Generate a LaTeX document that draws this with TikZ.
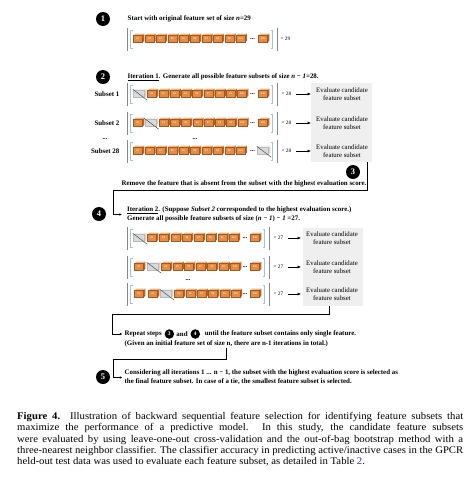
\documentclass[tikz,border=0pt]{standalone}
\usepackage{fontspec}
\setmainfont{Liberation Serif}
\newfontfamily\capfont{Liberation Serif}[FakeStretch=1.05]
\usepackage{xcolor}
\usetikzlibrary{arrows.meta, positioning}

\definecolor{cubeface}{RGB}{228,140,68}
\definecolor{cubeedge}{RGB}{160,88,30}
\definecolor{cubetopc}{RGB}{242,182,128}
\definecolor{cubesidec}{RGB}{185,100,40}
\definecolor{gapgray}{RGB}{218,218,218}
\definecolor{bargray}{RGB}{135,135,135}
\definecolor{brblue}{RGB}{160,195,225}
\definecolor{evalgray}{RGB}{239,239,239}
\definecolor{linkblue}{RGB}{30,60,200}

\tikzset{
  stepdot/.style={circle, fill=black, text=white, inner sep=0pt, minimum size=14pt,
    font=\fontsize{8.5}{8.5}\selectfont\bfseries},
  smalldot/.style={stepdot, minimum size=9.5pt, font=\fontsize{5.5}{5.5}\selectfont\bfseries},
  stepnote/.style={anchor=west, align=left, inner sep=0.5pt, font=\fontsize{6.9}{9}\selectfont\bfseries},
  subsetnote/.style={anchor=east, inner sep=0.5pt, font=\fontsize{6.9}{7}\selectfont\bfseries},
  dotsnote/.style={inner sep=0pt, font=\fontsize{6.5}{6.5}\selectfont\bfseries},
  eqnote/.style={anchor=west, inner sep=0.5pt, font=\fontsize{5.2}{5.2}\selectfont},
  evalnote/.style={align=center, inner sep=0.5pt, font=\fontsize{6.8}{8.2}\selectfont},
  evalbg/.style={rectangle, fill=evalgray, inner sep=0pt},
  cubefront/.style={rectangle, fill=cubeface, draw=cubeedge, line width=0.3pt, inner sep=0pt,
    minimum width=9pt, minimum height=7pt, text=white, font=\fontsize{2.4}{2.4}\selectfont\bfseries},
  cubetop/.style={fill=cubetopc},
  cubeside/.style={fill=cubesidec},
  gapbox/.style={rectangle, fill=gapgray, draw=gray!55, line width=0.3pt, inner sep=0pt,
    minimum width=11pt, minimum height=7pt},
  gaptop/.style={fill=gray!12},
  gapside/.style={fill=gray!35},
  crossline/.style={draw=black!75, line width=0.45pt},
  barline/.style={draw=bargray, line width=0.8pt},
  bracketline/.style={draw=brblue, line width=0.4pt},
  evarrow/.style={-{Latex[length=3.5pt,width=3pt]}, line width=0.6pt, shorten <=4.5pt, shorten >=4.5pt},
  flowline/.style={-{Latex[length=2.6pt,width=2.4pt]}, line width=0.8pt, shorten >=1.5pt},
  captionnote/.style={anchor=north west, inner sep=0pt, text width=446pt, align=justify,
    font=\capfont\fontsize{10.2}{11.35}\selectfont}
}

% one orange feature cube: name, left x, centre y, label
\newcommand{\fcube}[4]{%
  \fill[cubetop] ({#2+0.5},{#3-3.5}) -- ++(1.8,-1.8) -- ++(9,0) -- ++(-1.8,1.8) -- cycle;
  \fill[cubeside] ({#2+9.5},{#3-3.5}) -- ++(1.8,-1.8) -- ++(0,7) -- ++(-1.8,1.8) -- cycle;
  \node[cubefront] (#1) at ({#2+5},{#3}) {#4};
}
% removed feature (grey, crossed): name, left x, centre y
\newcommand{\gapcell}[3]{%
  \fill[gaptop] ({#2+0.5},{#3-3.5}) -- ++(1.8,-1.8) -- ++(11,0) -- ++(-1.8,1.8) -- cycle;
  \fill[gapside] ({#2+11.5},{#3-3.5}) -- ++(1.8,-1.8) -- ++(0,7) -- ++(-1.8,1.8) -- cycle;
  \node[gapbox] (#1) at ({#2+6},{#3}) {};
  \draw[crossline] ([shift={(-0.5,-1)}]#1.north west) -- ([shift={(2.5,2.5)}]#1.south east);
}
% bars and brackets round a feature row: centre y, x of right bar
\newcommand{\rowbars}[2]{%
  \draw[barline] (127,{#1-11.5}) -- (127,{#1+11.5});
  \draw[bracketline] (132.5,{#1-9}) -- (130.5,{#1-9}) -- (130.5,{#1+9}) -- (132.5,{#1+9});
  \draw[bracketline] ({#2-6.5},{#1-9}) -- ({#2-4.5},{#1-9}) -- ({#2-4.5},{#1+9}) -- ({#2-6.5},{#1+9});
  \draw[barline] (#2,{#1-11.5}) -- (#2,{#1+11.5});
}

\begin{document}
\begin{tikzpicture}[x=1pt, y=-1pt]
  \useasboundingbox[fill=white] (0,0) rectangle (474,485);

  % ---- step 1: original set
  \node[stepdot] (s1) at (103,19) {1};
  \node[stepnote] (t1) at (127,19) {Start with original feature set of size \textit{n}=29};
  \rowbars{39}{277}
  \foreach \i [evaluate=\i as \xx using 133+(\i-1)*11.4] in {1,...,10}
    {\fcube{a\i}{\xx}{39}{F\i}}
  \node[dotsnote] (ad) at (252.5,39) {...};
  \fcube{a29}{258}{39}{F29}
  \node[eqnote] (eq0) at (280,39) {= 29};

  % ---- step 2: iteration 1
  \node[stepdot] (s2) at (103,77) {2};
  \node[stepnote] (t2) at (127,77) {\underline{Iteration 1}. Generate all possible feature subsets of size \textit{n} − \textit{1}=28.};
  \node[evalbg, minimum width=61pt, minimum height=79pt] (bg1) at (341.5,122.5) {};

  % subset 1
  \node[subsetnote] (l1) at (120,94) {Subset 1};
  \rowbars{94}{277}
  \gapcell{b1}{133}{94}
  \foreach \i [evaluate=\i as \xx using 147+(\i-2)*11.25] in {2,...,10}
    {\fcube{b\i}{\xx}{94}{F\i}}
  \node[dotsnote] (bd) at (252.5,94) {...};
  \fcube{b29}{258}{94}{F29}
  \node[eqnote] (eq1) at (281,94) {= 28};
  \node[evalnote] (ev1) at (342,94) {Evaluate candidate\\feature subset};
  \draw[evarrow] (eq1) -- (ev1);

  % subset 2
  \node[subsetnote] (l2) at (120,123) {Subset 2};
  \rowbars{123}{277}
  \fcube{c1}{133}{123}{F1}
  \gapcell{c2}{144.5}{123}
  \foreach \i [evaluate=\i as \xx using 158.5+(\i-3)*11.25] in {3,...,10}
    {\fcube{c\i}{\xx}{123}{F\i}}
  \node[dotsnote] (cd) at (252.5,123) {...};
  \fcube{c29}{258}{123}{F29}
  \node[eqnote] (eq2) at (281,123) {= 28};
  \node[evalnote] (ev2) at (342,123) {Evaluate candidate\\feature subset};
  \draw[evarrow] (eq2) -- (ev2);

  \node[dotsnote] (ld) at (105,139) {...};
  \node[dotsnote] (md) at (195,139) {...};

  % subset 28
  \node[subsetnote] (l3) at (120,151) {Subset 28};
  \rowbars{151}{277}
  \foreach \i [evaluate=\i as \xx using 133+(\i-1)*11.4] in {1,...,10}
    {\fcube{d\i}{\xx}{151}{F\i}}
  \node[dotsnote] (dd) at (252.5,151) {...};
  \gapcell{d29}{257}{151}
  \node[eqnote] (eq3) at (281,151) {= 28};
  \node[evalnote] (ev3) at (342,151) {Evaluate candidate\\feature subset};
  \draw[evarrow] (eq3) -- (ev3);

  % ---- step 3
  \node[stepdot] (s3) at (353,172) {3};
  \node[stepnote, anchor=center] (t3) at (244,184) {Remove the feature that is absent from the subset with the highest evaluation score.};
  \coordinate (k1) at (113,190);

  % ---- step 4: iteration 2
  \node[stepdot] (s4) at (99,214) {4};
  \node[stepnote] (t4) at (126.5,214.5) {\underline{Iteration 2}. (Suppose \textit{Subset 2} corresponded to the highest evaluation score.)\\Generate all possible feature subsets of size (\textit{n} − \textit{1}) − \textit{1} =27.};
  \draw[flowline, shorten >=4.5pt] ([xshift=-5pt]bg1.south east) |- (k1) |- (t4.west);

  \node[evalbg, minimum width=60pt, minimum height=78pt] (bg2) at (333,267) {};

  % row A
  \rowbars{238}{269}
  \gapcell{e1}{133}{238}
  \foreach \i [evaluate=\i as \xx using 147+(\i-3)*11.7] in {3,...,10}
    {\fcube{e\i}{\xx}{238}{F\i}}
  \node[dotsnote] (ed) at (245,238) {...};
  \fcube{e29}{250}{238}{F29}
  \node[eqnote] (eq4) at (273,238) {= 27};
  \node[evalnote] (ev4) at (332,238) {Evaluate candidate\\feature subset};
  \draw[evarrow] (eq4) -- (ev4);

  % row B
  \rowbars{267}{269}
  \fcube{f1}{134}{267}{F1}
  \gapcell{f3}{147}{267}
  \foreach \i [evaluate=\i as \xx using 161+(\i-4)*11.5] in {4,...,10}
    {\fcube{f\i}{\xx}{267}{F\i}}
  \node[dotsnote] (fd) at (245,267) {...};
  \fcube{f29}{250}{267}{F29}
  \node[eqnote] (eq5) at (273,267) {= 27};
  \node[evalnote] (ev5) at (332,267) {Evaluate candidate\\feature subset};
  \draw[evarrow] (eq5) -- (ev5);

  \node[dotsnote] (gd0) at (188,280) {...};

  % row C
  \rowbars{294}{269}
  \fcube{g1}{134}{294}{F1}
  \fcube{g3}{148}{294}{F3}
  \gapcell{g4}{160}{294}
  \foreach \i [evaluate=\i as \xx using 174+(\i-5)*11.35] in {5,...,10}
    {\fcube{g\i}{\xx}{294}{F\i}}
  \node[dotsnote] (gd) at (245,294) {...};
  \fcube{g29}{250}{294}{F29}
  \node[eqnote] (eq6) at (273,294) {= 27};
  \node[evalnote] (ev6) at (332,294) {Evaluate candidate\\feature subset};
  \draw[evarrow] (eq6) -- (ev6);

  % ---- repeat
  \node[stepnote] (r1) at (124,334) {Repeat steps};
  \node[smalldot, right=2pt of r1] (r3) {3};
  \node[stepnote, right=1.5pt of r3] (r2) {and};
  \node[smalldot, right=2pt of r2] (r4) {4};
  \node[stepnote, right=4pt of r4] (r5) {until the feature subset contains only single feature.};
  \node[stepnote] (r6) at (124,344) {(Given an initial feature set of size n, there are n-1 iterations in total.)};
  \coordinate (k2) at (112,314);
  \draw[flowline] ([xshift=-4pt]bg2.south) |- (k2) |- (r1.west);

  % ---- step 5
  \node[stepdot] (s5) at (103,377) {5};
  \node[stepnote] (t5) at (124,377.5) {Considering all iterations 1 ... n − 1, the subset with the highest evaluation score is selected as\\the final feature subset. In case of a tie, the smallest feature subset is selected.};
  \coordinate (k3) at (113,359);
  \draw[flowline] (r6.south) |- (k3) |- (t5.west);

  % ---- caption
  \node[captionnote] (cap) at (17,412) {\textbf{Figure 4.} Illustration of backward sequential feature selection for identifying feature subsets that\linebreak
    maximize the performance of a predictive model. In this study, the candidate feature subsets\linebreak
    were evaluated by using leave-one-out cross-validation and the out-of-bag bootstrap method with a\linebreak
    three-nearest neighbor classifier. The classifier accuracy in predicting active/inactive cases in the GPCR\linebreak
    held-out test data was used to evaluate each feature subset, as detailed in Table~\textcolor{linkblue}{2}.};
\end{tikzpicture}
\end{document}
